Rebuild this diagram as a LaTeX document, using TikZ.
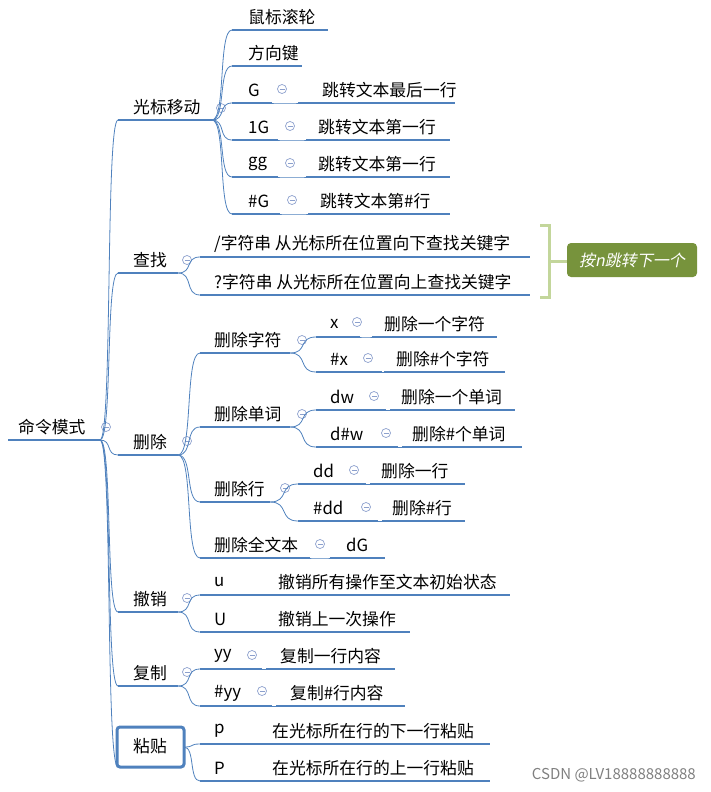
\documentclass[tikz,border=0pt]{standalone}
\usepackage{fontspec}
\setmainfont{Noto Sans CJK SC}
\newfontfamily\slantfont{Noto Sans CJK SC}[FakeSlant=0.2]
\usetikzlibrary{calc}
\definecolor{mmblue}{RGB}{79,129,189}
\definecolor{foldc}{RGB}{140,160,205}
\definecolor{brgreen}{RGB}{195,214,155}
\definecolor{tagfill}{RGB}{119,147,60}
\tikzset{
  uline/.style={mmblue, line width=2.6pt},
  conn/.style={mmblue, line width=0.8pt, to path={let \p1=(\tikztostart), \p2=(\tikztotarget) in
      .. controls ({\x1+0.7*(\x2-\x1)},\y1) and ({\x1+0.3*(\x2-\x1)},\y2) .. (\tikztotarget)}},
  lbl/.style={anchor=west, inner sep=0pt, font=\fontsize{16.8}{18}\selectfont},
}
% topic: name, x1, x2, line y, text x, text
\newcommand\topic[6]{%
  \coordinate (#1-l) at (#2,#4); \coordinate (#1-r) at (#3,#4);
  \draw[uline] (#1-l) -- (#1-r);
  \node[lbl] (#1) at (#5,#4-13) {#6};}
% fold marker
\newcommand\fold[2]{%
  \draw[foldc, line width=0.7pt] (#1,#2) circle (4.5pt);
  \draw[foldc, line width=0.7pt] (#1-2.5,#2) -- (#1+2.5,#2);}
\begin{document}
\begin{tikzpicture}[x=1pt, y=-1pt]
\useasboundingbox (0,0) rectangle (710,792);
% root
\topic{root}{8}{100}{440}{18}{命令模式} \fold{106}{427}
% level 1
\topic{gbyd}{118}{212}{120}{133}{光标移动} \fold{221}{108}
\topic{cz}{118}{178}{273}{133}{查找} \fold{187}{260}
\topic{sc}{118}{178}{455}{133}{删除} \fold{187}{441}
\topic{cx}{118}{178}{612}{133}{撤销} \fold{187}{598}
\topic{fz}{118}{178}{686}{133}{复制} \fold{187}{672}
\coordinate (zt-l) at (118,767); \coordinate (zt-r) at (184,747);
\node[lbl] (zt) at (133,746) {粘贴};
\draw[mmblue, line width=3pt, rounded corners=3pt] (117,727) rectangle (184,767);
\foreach \c in {gbyd,cz,sc,cx,fz,zt} \draw[conn] (root-r) to (\c-l);
% 光标移动
\topic{sbgl}{232}{328}{30}{248}{鼠标滚轮}
\topic{fxj}{232}{302}{66}{248}{方向键}
\topic{g}{232}{272}{103}{248}{G} \fold{282}{89}
\topic{gT}{298}{455}{103}{322}{跳转文本最后一行}
\topic{ga}{232}{278}{140}{248}{1G} \fold{290}{126}
\topic{gaT}{306}{450}{140}{318}{跳转文本第一行}
\topic{gg}{232}{278}{177}{248}{gg} \fold{290}{163}
\topic{ggT}{306}{450}{177}{318}{跳转文本第一行}
\topic{gn}{232}{280}{214}{248}{\#G} \fold{292}{200}
\topic{gnT}{308}{450}{214}{320}{跳转文本第\#行}
\foreach \c in {sbgl,fxj,g,ga,gg,gn} \draw[conn] (gbyd-r) to (\c-l);
\foreach \a/\b in {g/gT,ga/gaT,gg/ggT,gn/gnT} \draw[conn] (\a-r) to (\b-l);
% 查找
\topic{czA}{200}{530}{257}{214}{/字符串 从光标所在位置向下查找关键字}
\topic{czB}{200}{530}{295}{214}{?字符串 从光标所在位置向上查找关键字}
\foreach \c in {czA,czB} \draw[conn] (cz-r) to (\c-l);
\draw[brgreen, line width=3pt] (540,225) -- (549,225) -- (549,297) -- (540,297);
\draw[brgreen, line width=3pt] (549,261) -- (567,261);
\node[fill=tagfill, text=white, rounded corners=4pt, minimum width=130pt, minimum height=34pt,
  inner sep=0pt, font=\fontsize{16}{18}\slantfont] (tag) at (632,260) {按n跳转下一个};
% 删除
\topic{sczf}{200}{290}{353}{214}{删除字符} \fold{302}{340}
\topic{x}{316}{360}{337}{330}{x} \fold{357}{322}
\topic{xT}{372}{497}{337}{384}{删除一个字符}
\topic{nx}{316}{382}{372}{330}{\#x} \fold{368}{358}
\topic{nxT}{384}{505}{372}{396}{删除\#个字符}
\topic{scdc}{200}{290}{427}{214}{删除单词} \fold{302}{414}
\topic{dw}{316}{386}{410}{330}{dw} \fold{374}{396}
\topic{dwT}{390}{515}{410}{401}{删除一个单词}
\topic{dnw}{316}{398}{447}{330}{d\#w} \fold{386}{433}
\topic{dnwT}{402}{522}{447}{412}{删除\#个单词}
\topic{schang}{200}{270}{502}{214}{删除行} \fold{285}{488}
\topic{dd}{298}{366}{484}{313}{dd} \fold{354}{470}
\topic{ddT}{370}{465}{484}{381}{删除一行}
\topic{ndd}{298}{378}{521}{313}{\#dd} \fold{366}{507}
\topic{nddT}{382}{465}{521}{392}{删除\#行}
\topic{scqw}{200}{310}{558}{214}{删除全文本} \fold{320}{544}
\topic{dG}{330}{385}{558}{346}{dG}
\foreach \c in {sczf,scdc,schang,scqw} \draw[conn] (sc-r) to (\c-l);
\foreach \c in {x,nx} \draw[conn] (sczf-r) to (\c-l);
\foreach \c in {dw,dnw} \draw[conn] (scdc-r) to (\c-l);
\foreach \c in {dd,ndd} \draw[conn] (schang-r) to (\c-l);
\foreach \a/\b in {x/xT,nx/nxT,dw/dwT,dnw/dnwT,dd/ddT,ndd/nddT,scqw/dG} \draw[conn] (\a-r) to (\b-l);
% 撤销
\topic{u}{200}{510}{595}{214}{u}
\node[lbl] (uT) at (278,582) {撤销所有操作至文本初始状态};
\topic{U}{200}{410}{632}{214}{U}
\node[lbl] (UT) at (278,619) {撤销上一次操作};
\foreach \c in {u,U} \draw[conn] (cx-r) to (\c-l);
% 复制
\topic{yy}{200}{262}{669}{214}{yy} \fold{252}{655}
\topic{yyT}{266}{395}{669}{280}{复制一行内容}
\topic{nyy}{200}{272}{706}{214}{\#yy} \fold{262}{691}
\topic{nyyT}{276}{405}{706}{290}{复制\#行内容}
\foreach \c in {yy,nyy} \draw[conn] (fz-r) to (\c-l);
\foreach \a/\b in {yy/yyT,nyy/nyyT} \draw[conn] (\a-r) to (\b-l);
% 粘贴
\topic{p}{200}{490}{744}{214}{p}
\node[lbl] (pT) at (272,731) {在光标所在行的下一行粘贴};
\topic{P}{200}{490}{781}{214}{P}
\node[lbl] (PT) at (272,768) {在光标所在行的上一行粘贴};
\foreach \c in {p,P} \draw[conn] (zt-r) to (\c-l);
% watermark
\node[anchor=east, inner sep=1pt, text=gray, font=\fontsize{15}{17}\selectfont] (wm) at (697,775) {CSDN @LV18888888888};
\end{tikzpicture}
\end{document}
